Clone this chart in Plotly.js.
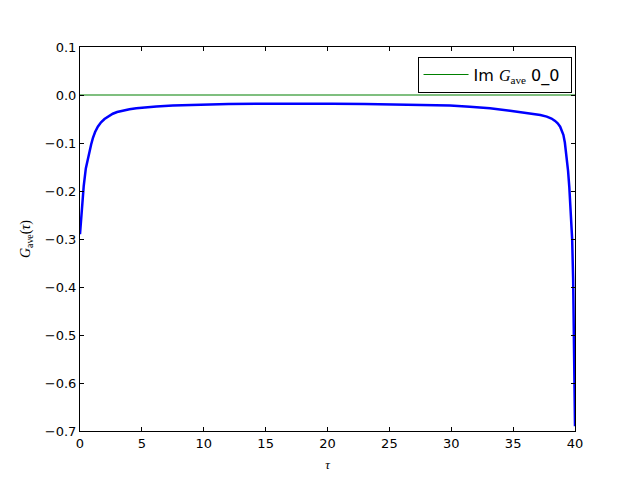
<!DOCTYPE html>
<html>
<head>
<meta charset="utf-8">
<script src="https://cdn.plot.ly/plotly-3.0.1.min.js"></script>
<style>html,body{margin:0;padding:0;background:#fff;}#chart{width:640px;height:480px;}</style>
</head>
<body>
<div id="chart"></div>
<script>
// Data
var tau = [0, 0.05, 0.1, 0.2, 0.3, 0.47, 0.62, 0.77, 0.9, 1.04, 1.22, 1.44, 1.7, 1.98, 2.3, 2.65, 3.0, 3.46, 4.0, 4.55, 5.3, 6.17, 7.5, 9.65, 12, 15, 18, 20.4, 23, 25.8, 28, 29.9, 31.5, 33.13, 34.75, 36.37, 37.2, 37.72, 38.1, 38.39, 38.6, 38.8, 38.95, 39.06, 39.18, 39.28, 39.37, 39.44, 39.54, 39.63, 39.7, 39.77, 39.85, 39.92, 39.96, 40];
var reG = [-0.29, -0.27, -0.25, -0.217, -0.19, -0.153, -0.133, -0.118, -0.103, -0.090, -0.077, -0.066, -0.057, -0.050, -0.044, -0.039, -0.0355, -0.032, -0.0295, -0.0275, -0.0255, -0.024, -0.022, -0.020, -0.019, -0.018, -0.0175, -0.018, -0.0185, -0.0195, -0.021, -0.022, -0.0245, -0.0275, -0.033, -0.0385, -0.0415, -0.045, -0.049, -0.054, -0.059, -0.066, -0.074, -0.083, -0.099, -0.118, -0.138, -0.158, -0.192, -0.231, -0.263, -0.30, -0.383, -0.50, -0.596, -0.69];
var tauIm = [0, 40];
var imG = [0, 0];
var xTicks = [0, 5, 10, 15, 20, 25, 30, 35, 40];
var yTicks = [0.1, 0.0, -0.1, -0.2, -0.3, -0.4, -0.5, -0.6, -0.7];

var traces = [
  {x: tau, y: reG, type: 'scatter', mode: 'lines', line: {color: '#0000ff', width: 2.5}, showlegend: false, hoverinfo: 'none'},
  {x: tauIm, y: imG, type: 'scatter', mode: 'lines', line: {color: '#008000', width: 1.2},
   name: "Im <span style='font-family:\"Liberation Serif\",serif'><i>G</i><sub>ave</sub></span> 0_0 "}
];

var axisCommon = {
  showline: true, linecolor: '#000', linewidth: 1, mirror: 'ticks',
  ticks: 'inside', ticklen: 4, tickwidth: 1, tickcolor: '#000',
  showgrid: false, zeroline: false,
  tickfont: {family: 'DejaVu Sans', size: 13, color: '#000'}
};

var layout = {
  width: 640, height: 480,
  paper_bgcolor: '#fff', plot_bgcolor: '#fff',
  margin: {l: 80, r: 65, t: 47, b: 49},
  showlegend: true,
  legend: {
    x: 0.993, y: 0.975, xanchor: 'right', yanchor: 'top',
    bordercolor: '#000', borderwidth: 1, bgcolor: '#fff',
    itemwidth: 45,
    font: {family: 'DejaVu Sans', size: 16, color: '#000'}
  },
  xaxis: Object.assign({}, axisCommon, {
    range: [0, 40], tickvals: xTicks, ticktext: xTicks.map(String),
    title: {text: '<i>τ</i>', font: {family: 'Liberation Serif', size: 13, color: '#000'}, standoff: 10}
  }),
  yaxis: Object.assign({}, axisCommon, {
    range: [-0.7, 0.1], tickvals: yTicks, tickformat: '.1f',
    title: {text: "<i>G</i><sub>ave</sub>(<i>τ</i>)", font: {family: 'Liberation Serif', size: 14, color: '#000'}, standoff: 10}
  })
};

Plotly.newPlot('chart', traces, layout, {staticPlot: true, displayModeBar: false});
</script>
</body>
</html>
